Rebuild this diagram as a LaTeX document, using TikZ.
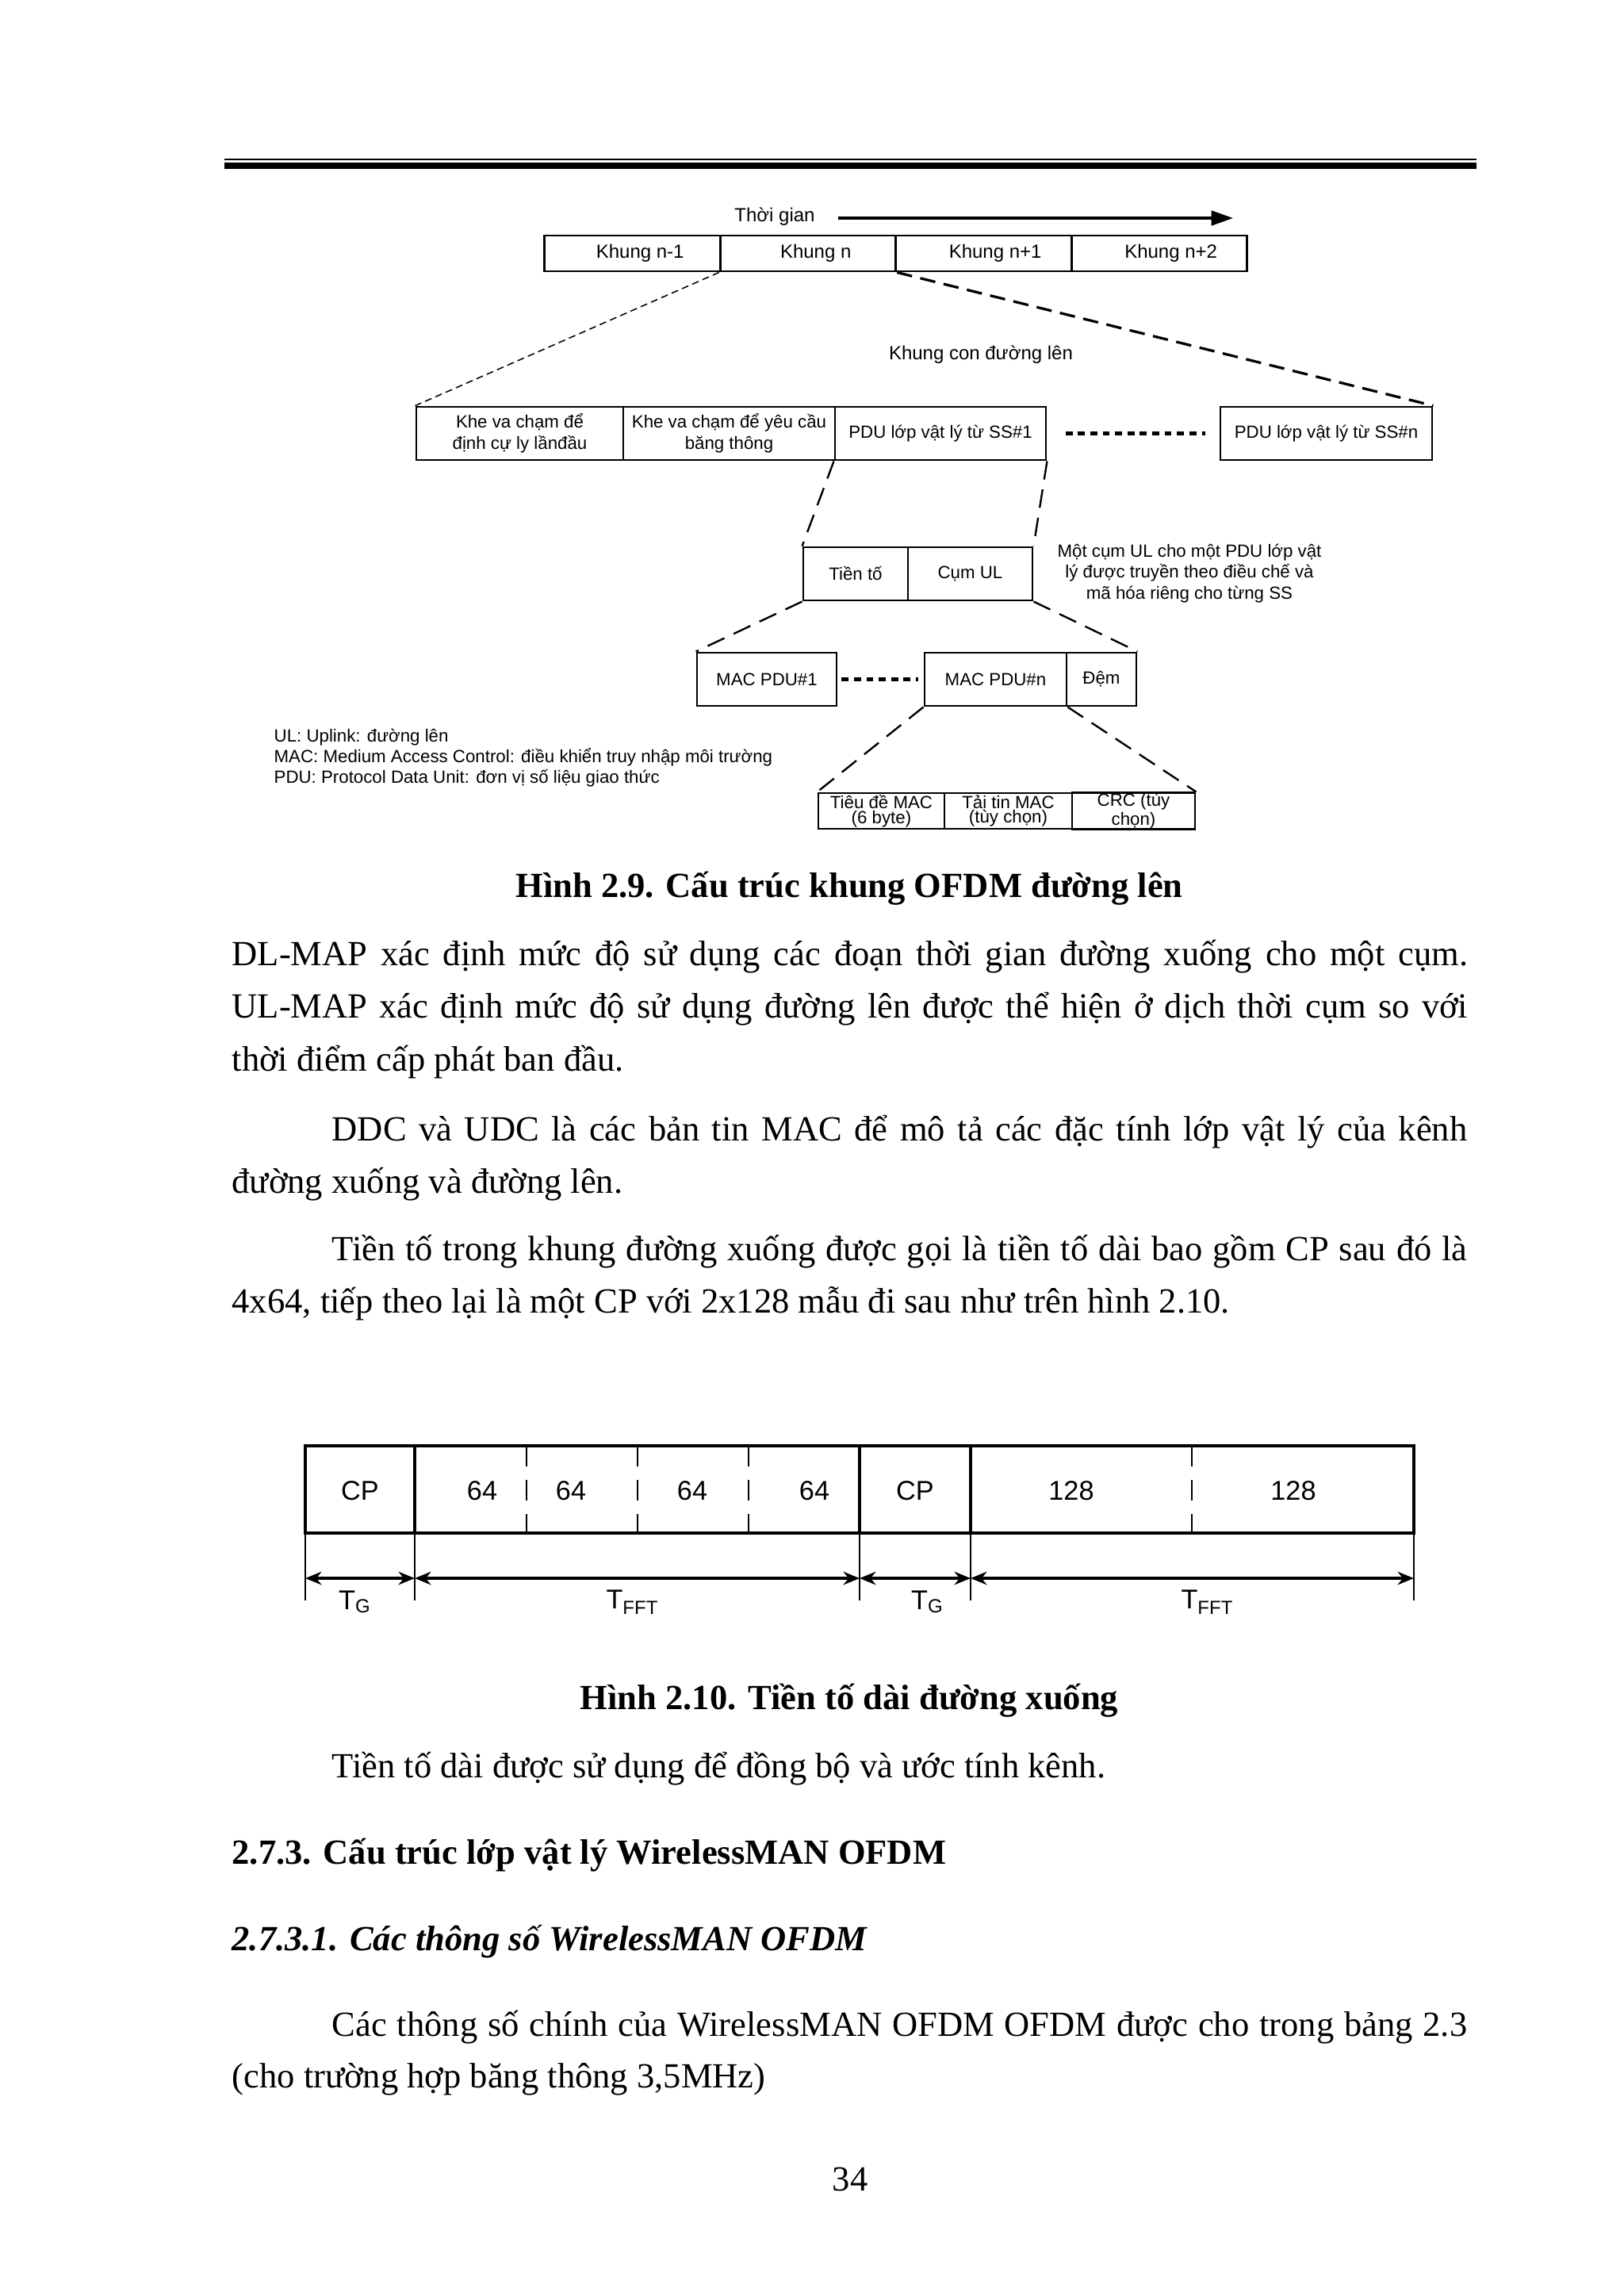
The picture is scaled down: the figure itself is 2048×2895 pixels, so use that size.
\documentclass[tikz,border=0pt]{standalone}
\usepackage{fontspec}
\setmainfont{Liberation Serif}
\newfontfamily\arialf{Liberation Sans}
\usepackage{tikz}
\usetikzlibrary{arrows.meta}
\newcommand{\pxl}{0.102539mm}
\newcommand{\fullw}{159.8mm}
\newcommand{\indw}{146.8mm}

\begin{document}
\begin{tikzpicture}[
      x=\pxl,y=-\pxl,
      fA/.style={font=\arialf\fontsize{7}{8}\selectfont},
      fB/.style={font=\arialf\fontsize{6.5}{7.85}\selectfont},
      frmBox/.style={draw,line width=0.85pt,inner sep=0pt,minimum height=45*\pxl,minimum width=221.5*\pxl,fA},
      subBox/.style={draw,line width=0.85pt,inner sep=0pt,minimum height=67*\pxl,fB,align=center},
      tinyBox/.style={draw,line width=0.85pt,inner sep=0pt,minimum height=45*\pxl,align=center,
                      font=\arialf\fontsize{6.5}{5.4}\selectfont},
      zThin/.style={dash pattern=on 0.9mm off 0.55mm,line width=0.45pt},
      zThick/.style={dash pattern=on 2mm off 1.1mm,line width=0.95pt},
      zMid/.style={dash pattern=on 2.4mm off 1.3mm,line width=0.7pt},
      dotRun/.style={dash pattern=on 0.9mm off 0.7mm,line width=0.5mm},
      timeArr/.style={-{Triangle[length=2.8mm,width=1.9mm]},line width=0.9pt},
      cellBox/.style={draw,line width=0.95pt,inner sep=0pt,minimum height=110*\pxl},
      cellTxt/.style={font=\arialf\fontsize{10}{12}\selectfont,inner sep=0pt},
      cut/.style={line width=0.75pt,dash pattern=on 2.7mm off 1.7mm},
      extLine/.style={line width=0.35pt},
      dimArr/.style={{Stealth[length=2.1mm,width=1.7mm]}-{Stealth[length=2.1mm,width=1.7mm]},line width=0.9pt},
      bodyTxt/.style={font=\fontsize{13}{15}\selectfont,inner sep=0pt,anchor=base west},
      capTxt/.style={font=\bfseries\fontsize{13}{15}\selectfont,inner sep=0pt,anchor=base}
    ]
    \useasboundingbox (0,0) rectangle (2048,2895);
    \fill[white] (0,0) rectangle (2048,2895);

    % Page header rule
    \draw[line width=0.6pt] (283,201) -- (1862,201);
    \draw[line width=2.1pt] (283,209) -- (1862,209);

    % Figure 2.9: time axis and frames
    \node(tg)[fA,inner sep=0pt] at (977,273) {Thời gian};
    \coordinate (ta) at (1057,275);
    \coordinate (tb) at (1555,275);
    \draw[timeArr] (ta) -- (tb);

    \node(k1)[frmBox] at (797.5,319.5) {\hspace{2mm}Khung n-1};
    \node(k2)[frmBox] at (1019,319.5) {\hspace{2mm}Khung n};
    \node(k3)[frmBox] at (1240.5,319.5) {\hspace{3mm}Khung n+1};
    \node(k4)[frmBox] at (1462,319.5) {\hspace{3mm}Khung n+2};

    \node(kc)[fA,inner sep=0pt] at (1237,447) {Khung con đường lên};

    % Uplink subframe
    \node(s1)[subBox,minimum width=261*\pxl] at (655.5,546.5) {Khe va chạm để\\định cự ly lầnđầu};
    \node(s2)[subBox,minimum width=267*\pxl] at (919.5,546.5) {Khe va chạm để yêu cầu\\băng thông};
    \node(s3)[subBox,minimum width=266*\pxl] at (1186,546.5) {PDU lớp vật lý từ SS\#1};
    \node(s4)[subBox,minimum width=267*\pxl] at (1672.5,546.5) {PDU lớp vật lý từ SS\#n};
    \draw[dotRun,shorten <=2.4mm,shorten >=1.75mm] (s3.east) -- (s4.west);

    \draw[zThin] (k2.south west) -- (s1.north west);
    \draw[zThick] (k2.south east) -- (s4.north east);

    % UL burst
    \node(b1)[subBox,minimum width=132*\pxl] at (1079,723.5) {Tiền tố};
    \node(b2)[subBox,minimum width=157*\pxl] at (1223.5,723.5) {Cụm UL};
    \node(note)[align=center,inner sep=0pt,font=\arialf\fontsize{6.5}{7.8}\selectfont] at (1500,723)
      {Một cụm UL cho một PDU lớp vật\\lý được truyền theo điều chế và\\mã hóa riêng cho từng SS};
    \draw[zMid] (s3.south west) -- (b1.north west);
    \draw[zMid] (s3.south east) -- (b2.north east);

    % MAC PDUs
    \node(m1)[subBox,minimum width=176*\pxl] at (967,856.5) {MAC PDU\#1};
    \node(m2)[subBox,minimum width=179*\pxl] at (1255.5,856.5) {MAC PDU\#n};
    \node(m3)[subBox,minimum width=88*\pxl] at (1389,856.5) {Đệm};
    \draw[dotRun,shorten <=0.5mm,shorten >=0.7mm] (m1.east) -- (m2.west);
    \draw[zMid] (b1.south west) -- (m1.north west);
    \draw[zMid] (b2.south east) -- (m3.north east);

    % MAC PDU fields
    \node(h1)[tinyBox,minimum width=159*\pxl] at (1111.5,1022.5) {Tiêu đề MAC\\(6 byte)};
    \node(h2)[tinyBox,minimum width=161*\pxl] at (1271.5,1022.5) {Tải tin MAC\\(tùy chọn)};
    \node(h3)[tinyBox,minimum width=155*\pxl] at (1429.5,1022.5) {CRC (tùy\\chọn)};
    \draw[zMid] (m2.south west) -- (h1.north west);
    \draw[zMid] (m2.south east) -- (h3.north east);

    \node(lgd)[anchor=west,align=left,inner sep=0pt,font=\arialf\fontsize{6.5}{7.6}\selectfont] at (345,956)
      {UL: Uplink: đường lên\\MAC: Medium Access Control: điều khiển truy nhập môi trường\\PDU: Protocol Data Unit: đơn vị số liệu giao thức};

    \node(cap1)[capTxt] at (1071,1131) {Hình 2.9. Cấu trúc khung OFDM đường lên};

    % Body text
    \node(p1)[bodyTxt] at (292,1217) {\makebox[\fullw][s]{DL-MAP xác định mức độ sử dụng các đoạn thời gian đường xuống cho một cụm.}};
    \node(p2)[bodyTxt] at (292,1283) {\makebox[\fullw][s]{UL-MAP xác định mức độ sử dụng đường lên được thể hiện ở dịch thời cụm so với}};
    \node(p3)[bodyTxt] at (292,1350) {thời điểm cấp phát ban đầu.};
    \node(p4)[bodyTxt] at (418,1438) {\makebox[\indw][s]{DDC và UDC là các bản tin MAC để mô tả các đặc tính lớp vật lý của kênh}};
    \node(p5)[bodyTxt] at (292,1504) {đường xuống và đường lên.};
    \node(p6)[bodyTxt] at (418,1589) {\makebox[\indw][s]{Tiền tố trong khung đường xuống được gọi là tiền tố dài bao gồm CP sau đó là}};
    \node(p7)[bodyTxt] at (292,1655) {4x64, tiếp theo lại là một CP với 2x128 mẫu đi sau như trên hình 2.10.};

    % Figure 2.10: long preamble
    \node(cpa)[cellBox,minimum width=138*\pxl] at (454,1878) {};
    \node(ffa)[cellBox,minimum width=561*\pxl] at (803.5,1878) {};
    \node(cpb)[cellBox,minimum width=140*\pxl] at (1154,1878) {};
    \node(ffb)[cellBox,minimum width=559*\pxl] at (1503.5,1878) {};
    \foreach \xx in {664,804,944,1503}
      \draw[cut] (\xx,1823) -- (\xx,1933);

    \node(l1)[cellTxt] at (454,1880) {CP};
    \node(l2)[cellTxt] at (608,1880) {64};
    \node(l3)[cellTxt] at (720,1880) {64};
    \node(l4)[cellTxt] at (873,1880) {64};
    \node(l5)[cellTxt] at (1027,1880) {64};
    \node(l6)[cellTxt] at (1154,1880) {CP};
    \node(l7)[cellTxt] at (1351,1880) {128};
    \node(l8)[cellTxt] at (1631,1880) {128};

    \foreach \xx in {385,523,1084,1224,1783}
      \draw[extLine] (\xx,1933) -- (\xx,2018);
    \coordinate (d0) at (385,1990);
    \coordinate (d1) at (523,1990);
    \coordinate (d2) at (1084,1990);
    \coordinate (d3) at (1224,1990);
    \coordinate (d4) at (1783,1990);
    \draw[dimArr] (d0) -- (d1);
    \draw[dimArr] (d1) -- (d2);
    \draw[dimArr] (d2) -- (d3);
    \draw[dimArr] (d3) -- (d4);

    \node(t1)[cellTxt] at (447,2020) {T\raisebox{-1pt}{\fontsize{7}{8}\selectfont G}};
    \node(t2)[cellTxt] at (797,2020) {T\raisebox{-2pt}{\fontsize{7}{8}\selectfont FFT}};
    \node(t3)[cellTxt] at (1169,2020) {T\raisebox{-1pt}{\fontsize{7}{8}\selectfont G}};
    \node(t4)[cellTxt] at (1522,2020) {T\raisebox{-2pt}{\fontsize{7}{8}\selectfont FFT}};

    \node(cap2)[capTxt] at (1071,2155) {Hình 2.10. Tiền tố dài đường xuống};

    \node(p8)[bodyTxt] at (418,2241) {Tiền tố dài được sử dụng để đồng bộ và ước tính kênh.};
    \node(h21)[bodyTxt,font=\bfseries\fontsize{13}{15}\selectfont] at (292,2350) {2.7.3. Cấu trúc lớp vật lý WirelessMAN OFDM};
    \node(h22)[bodyTxt,font=\bfseries\itshape\fontsize{13}{15}\selectfont] at (292,2459) {2.7.3.1. Các thông số WirelessMAN OFDM};
    \node(p9)[bodyTxt] at (418,2567) {\makebox[\indw][s]{Các thông số chính của WirelessMAN OFDM OFDM được cho trong bảng 2.3}};
    \node(p10)[bodyTxt] at (292,2632) {(cho trường hợp băng thông 3,5MHz)};

    \node(pg)[capTxt,font=\fontsize{13}{15}\selectfont] at (1072,2762) {34};
  \end{tikzpicture}
\end{document}
